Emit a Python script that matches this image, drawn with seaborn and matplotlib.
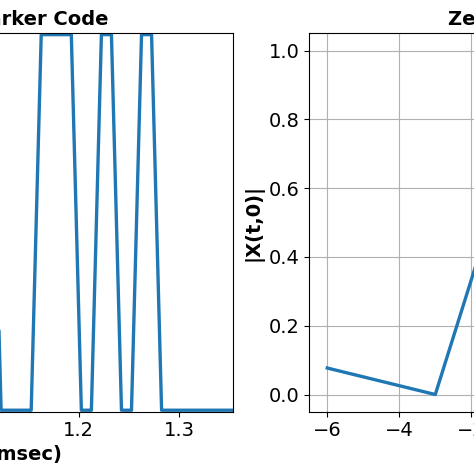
import matplotlib
matplotlib.use("Agg")
import matplotlib.pyplot as plt
import seaborn as sns
import pandas as pd

# ---- data ----
# Barker-13 code, two samples per chip (time in msec)
code_time = [1.0025, 1.0125, 1.0225, 1.0325, 1.0425, 1.0525, 1.0625, 1.0725,
             1.0825, 1.0925, 1.1025, 1.1125, 1.1225, 1.1325, 1.1425, 1.1525,
             1.1625, 1.1725, 1.1825, 1.1925, 1.2025, 1.2125, 1.2225, 1.2325,
             1.2425, 1.2525, 1.2625, 1.2725, 1.2825, 1.2925, 1.3025, 1.3125,
             1.3225, 1.3325, 1.3425, 1.3525, 1.3625]
code_value = [0, 0, 1, 1, 1, 1, 1, 1,
              1, 1, 1, 1, 0, 0, 0, 0,
              1, 1, 1, 1, 0, 0, 1, 1,
              0, 0, 1, 1, 0, 0, 0, 0,
              0, 0, 0, 0, 0]

# Zero-Doppler cut of the ambiguity function
cut_delay = [-6, -3, 0, 3, 6]
cut_value = [0.077, 0.0, 1.0, 0.0, 0.077]

left_title = "13-bit Barker Code"
left_xlabel = "Time (msec)"
right_title = "Zero-Doppler Cut"
right_ylabel = "|X(t,0)|"

# ---- figure ----
plt.rcParams['font.family'] = ['DejaVu Sans']
plt.rcParams['font.size'] = 14
line_color = '#1f77b4'

fig = plt.figure(figsize=(4.74, 4.74), dpi=100)

ax1 = fig.add_axes([-0.4812, 0.1314, 0.9734, 0.7983])
ax2 = fig.add_axes([0.6525, 0.1314, 0.9873, 0.7983])

df1 = pd.DataFrame({"t": code_time, "v": code_value})
sns.lineplot(data=df1, x="t", y="v", ax=ax1, color=line_color, linewidth=2.4,
             estimator=None)
ax1.set_xlim(0.894, 1.354)
ax1.set_ylim(-0.004, 1.0035)
ax1.set_title(left_title, fontsize=14, fontweight='bold', x=0.5065)
ax1.set_xlabel(left_xlabel, fontsize=14, fontweight='bold')
ax1.xaxis.set_label_coords(0.4815, -0.088)
ax1.set_ylabel("")
ax1.tick_params(labelsize=14)

df2 = pd.DataFrame({"d": cut_delay, "v": cut_value})
sns.lineplot(data=df2, x="d", y="v", ax=ax2, color=line_color, linewidth=2.4,
             estimator=None)
ax2.set_xlim(-6.5, 6.5)
ax2.set_ylim(-0.05, 1.05)
ax2.grid(True, color='#b0b0b0', linewidth=0.8)
ax2.set_axisbelow(True)
ax2.set_title(right_title, fontsize=14, fontweight='bold')
ax2.set_ylabel(right_ylabel, fontsize=14, fontweight='bold')
ax2.set_xlabel("")
ax2.tick_params(labelsize=14)

fig.savefig("out.png", dpi=100)
